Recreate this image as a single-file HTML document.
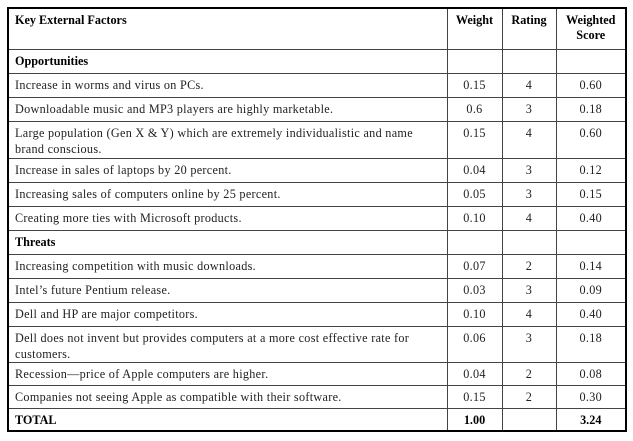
<!DOCTYPE html>
<html><head><meta charset="utf-8"><style>
html,body{margin:0;padding:0;background:#fff;width:633px;height:441px;overflow:hidden}
table{position:absolute;left:7px;top:7px;border-collapse:collapse;border:2px solid #000;font-family:"Liberation Serif",serif;font-size:12.2px;letter-spacing:0.3px;color:#222;table-layout:fixed}
td{border:1px solid #444;padding:0 0 0 6px;vertical-align:top;line-height:15px;padding-top:4px;box-sizing:border-box;overflow:hidden;white-space:nowrap}
td.n{text-align:center;padding-left:0}
td.w{line-height:16px;padding-top:3px}
.b{font-weight:bold;color:#000;letter-spacing:0}
tr{height:24px}
tr.t{height:37px}
</style></head><body>
<table>
<colgroup><col style="width:439px"><col style="width:55px"><col style="width:54px"><col style="width:70px"></colgroup>
<tr style="height:41px"><td class="b">Key External Factors</td><td class="n b">Weight</td><td class="n b">Rating</td><td class="n b">Weighted<br>Score</td></tr>
<tr><td class="b">Opportunities</td><td></td><td></td><td></td></tr>
<tr><td>Increase in worms and virus on PCs.</td><td class="n">0.15</td><td class="n">4</td><td class="n">0.60</td></tr>
<tr><td>Downloadable music and MP3 players are highly marketable.</td><td class="n">0.6</td><td class="n">3</td><td class="n">0.18</td></tr>
<tr class="t"><td class="w">Large population (Gen X &amp; Y) which are extremely individualistic and name<br>brand conscious.</td><td class="n">0.15</td><td class="n">4</td><td class="n">0.60</td></tr>
<tr><td>Increase in sales of laptops by 20 percent.</td><td class="n">0.04</td><td class="n">3</td><td class="n">0.12</td></tr>
<tr><td>Increasing sales of computers online by 25 percent.</td><td class="n">0.05</td><td class="n">3</td><td class="n">0.15</td></tr>
<tr><td>Creating more ties with Microsoft products.</td><td class="n">0.10</td><td class="n">4</td><td class="n">0.40</td></tr>
<tr><td class="b">Threats</td><td></td><td></td><td></td></tr>
<tr><td>Increasing competition with music downloads.</td><td class="n">0.07</td><td class="n">2</td><td class="n">0.14</td></tr>
<tr><td>Intel’s future Pentium release.</td><td class="n">0.03</td><td class="n">3</td><td class="n">0.09</td></tr>
<tr><td>Dell and HP are major competitors.</td><td class="n">0.10</td><td class="n">4</td><td class="n">0.40</td></tr>
<tr style="height:35px"><td class="w">Dell does not invent but provides computers at a more cost effective rate for<br>customers.</td><td class="n">0.06</td><td class="n">3</td><td class="n">0.18</td></tr>
<tr style="height:23px"><td>Recession—price of Apple computers are higher.</td><td class="n">0.04</td><td class="n">2</td><td class="n">0.08</td></tr>
<tr style="height:23px"><td>Companies not seeing Apple as compatible with their software.</td><td class="n">0.15</td><td class="n">2</td><td class="n">0.30</td></tr>
<tr style="height:23px"><td class="b">TOTAL</td><td class="n b">1.00</td><td class="n"></td><td class="n b">3.24</td></tr>
</table>
</body></html>
